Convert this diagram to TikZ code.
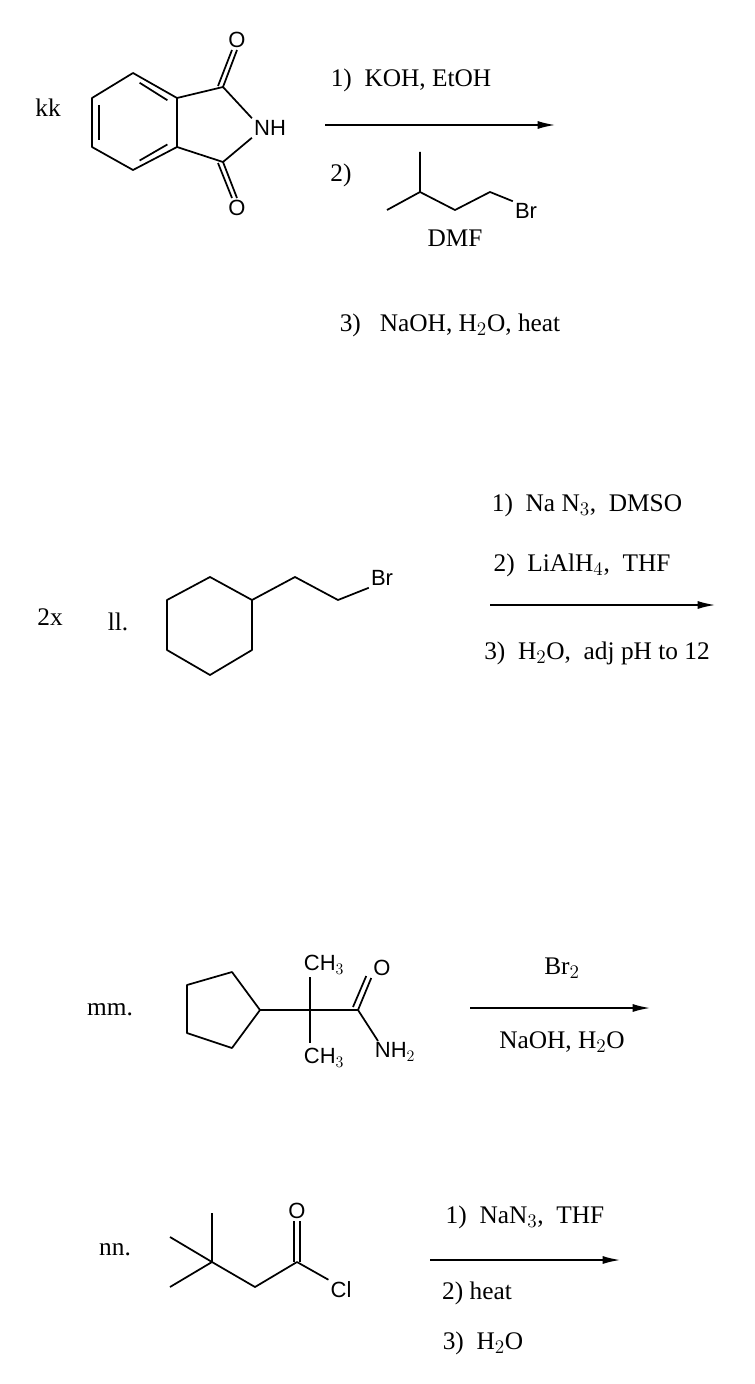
\documentclass[tikz,border=0pt]{standalone}
\usepackage{fontspec}
\setmainfont{Liberation Serif}
\newfontfamily\atomfont{Liberation Sans}
\usetikzlibrary{arrows.meta,calc}
\begin{document}
\begin{tikzpicture}[x=0.75pt,y=-0.75pt,line width=1.3pt,line join=round,
  txt/.style={font=\fontsize{19}{22}\selectfont,inner sep=0pt},
  atom/.style={font=\atomfont\fontsize{16.5}{19}\selectfont,inner sep=1pt},
  rxn/.style={-{Latex[length=13pt,width=6pt]},line width=1.1pt}]
\useasboundingbox (0,0) rectangle (754,1384);
% ---------- kk ----------
\node[txt] (kk) at (48,108) {kk};
\coordinate (b1) at (133,73); \coordinate (b2) at (177,98); \coordinate (b3) at (177,147);
\coordinate (b4) at (133,170); \coordinate (b5) at (92,147); \coordinate (b6) at (92,98);
\draw (b1)--(b2)--(b3)--(b4)--(b5)--(b6)--cycle;
\draw ($(b1)!0.15!(b2)+(0,6)$) -- ($(b1)!0.85!(b2)+(-3,6)$);
\draw ($(b3)!0.15!(b4)+(-3,-6)$) -- ($(b3)!0.85!(b4)+(0,-6)$);
\draw (99,105) -- (99,140);
\coordinate (c1) at (223,87); \coordinate (c3) at (223,162);
\node[atom] (nh) at (270,128) {NH};
\node[atom] (o1) at (237,40) {O};
\node[atom] (o2) at (237,208) {O};
\draw (b2)--(c1)--(nh.west|-nh.north);
\draw (b3)--(c3)--(nh.west|-nh.south);
\draw (c1)--(o1.south); \draw ($(c1)+(-5,-1)$)--($(o1.south)+(-5,0)$);
\draw (c3)--(o2.north); \draw ($(c3)+(-5,1)$)--($(o2.north)+(-5,0)$);
\coordinate (a1s) at (325,125); \coordinate (a1e) at (555,125);
\draw[rxn] (a1s)--(a1e);
\node[txt] (r11) at (411,80) {1)\ \ KOH, EtOH};
\node[txt] (r12) at (341,175) {2)};
\coordinate (i1) at (420,152); \coordinate (i2) at (420,192); \coordinate (i3) at (387,210);
\coordinate (i4) at (455,210); \coordinate (i5) at (490,192);
\node[atom] (ibr) at (526,211) {Br};
\draw (i1)--(i2)--(i3); \draw (i2)--(i4)--(i5)--(ibr.north west);
\node[txt] (dmf) at (455,238) {DMF};
\node[txt] (r13) at (450,325) {3)\ \ \ NaOH, H$_2$O, heat};
% ---------- ll ----------
\node[txt] (twox) at (50,617) {2x};
\node[txt] (ll) at (118,622) {ll.};
\coordinate (h1) at (210,577); \coordinate (h2) at (252,600); \coordinate (h3) at (252,650);
\coordinate (h4) at (210,675); \coordinate (h5) at (167,650); \coordinate (h6) at (167,600);
\draw (h1)--(h2)--(h3)--(h4)--(h5)--(h6)--cycle;
\coordinate (e1) at (295,577); \coordinate (e2) at (338,600);
\node[atom] (hbr) at (382,578) {Br};
\draw (h2)--(e1)--(e2)--(hbr.south west);
\draw[rxn] (490,605)--(715,605);
\node[txt] (r21) at (587,505) {1)\ \ Na N$_3$,\ \ DMSO};
\node[txt] (r22) at (582,565) {2)\ \ LiAlH$_4$,\ \ THF};
\node[txt] (r23) at (597,653) {3)\ \ H$_2$O,\ \ adj pH to 12};
% ---------- mm ----------
\node[txt] (mm) at (110,1010) {mm.};
\coordinate (p1) at (232,972); \coordinate (p2) at (187,985); \coordinate (p3) at (187,1033);
\coordinate (p4) at (232,1048); \coordinate (p5) at (260,1010);
\draw (p1)--(p2)--(p3)--(p4)--(p5)--cycle;
\coordinate (q) at (310,1010); \coordinate (k) at (358,1010);
\node[atom] (me1) at (324,965) {CH$_3$};
\node[atom] (me2) at (324,1058) {CH$_3$};
\node[atom] (mo) at (382,968) {O};
\node[atom] (mn) at (395,1052) {NH$_2$};
\draw (p5)--(q)--(k);
\draw (q)--(310,977); \draw (q)--(310,1043);
\draw (k)--(mo.south west); \draw ($(k)+(-5,-3)$)--($(mo.south west)+(-5,-2)$);
\draw (k)--(378,1041);
\draw[rxn] (470,1008)--(650,1008);
\node[txt] (r31) at (562,968) {Br$_2$};
\node[txt] (r32) at (562,1042) {NaOH, H$_2$O};
% ---------- nn ----------
\node[txt] (nn) at (115,1250) {nn.};
\coordinate (t) at (212,1262); \coordinate (t1) at (212,1213); \coordinate (t2) at (170,1237);
\coordinate (t3) at (170,1287); \coordinate (t4) at (255,1287); \coordinate (t5) at (297,1262);
\node[atom] (no) at (297,1211) {O};
\node[atom] (ncl) at (341,1290) {Cl};
\draw (t1)--(t)--(t2); \draw (t)--(t3); \draw (t)--(t4)--(t5)--(ncl.north west);
\draw ($(t5)+(-3,0)$)--($(no.south)+(-3,0)$); \draw ($(t5)+(3,0)$)--($(no.south)+(3,0)$);
\draw[rxn] (430,1260)--(620,1260);
\node[txt] (r41) at (525,1217) {1)\ \ NaN$_3$,\ \ THF};
\node[txt] (r42) at (477,1293) {2) heat};
\node[txt] (r43) at (483,1343) {3)\ \ H$_2$O};
\end{tikzpicture}
\end{document}
